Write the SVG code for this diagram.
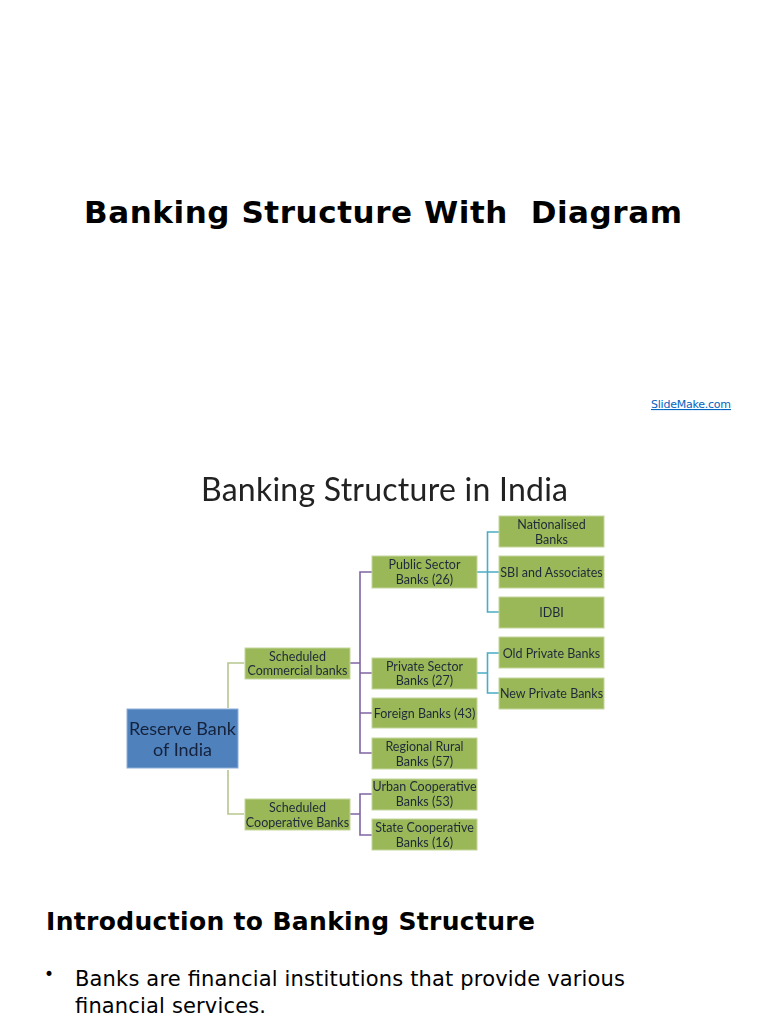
<svg xmlns="http://www.w3.org/2000/svg" width="768" height="1024" viewBox="0 0 768 1024">
<style>
.dj{font-family:"DejaVu Sans",sans-serif}
.b{fill:#9bb858;stroke:#c3d69b;stroke-width:1}
.r{fill:#4f81bd;stroke:#8fb0d8;stroke-width:1}
.t{font-family:"Lato","Open Sans",sans-serif;font-size:12.5px;fill:#1f2a3a;text-anchor:middle}
.l{fill:none;stroke-width:1.6}
.g{stroke:#b7c68e}.p{stroke:#8064a2}.c{stroke:#4bacc6}
</style>
<defs><filter id="soft" x="-2%" y="-2%" width="104%" height="104%"><feGaussianBlur stdDeviation="0.45"/></filter></defs>
<rect width="768" height="1024" fill="#fff"/>
<text class="dj" x="84" y="223" font-size="31" font-weight="bold" fill="#000" xml:space="preserve" style="white-space:pre" textLength="598">Banking Structure With  Diagram</text>
<text class="dj" x="651" y="408" font-size="11" fill="#0563c1" text-decoration="underline" textLength="80">SlideMake.com</text>
<g filter="url(#soft)">
<text x="201" y="501" font-family="Lato,'Open Sans',sans-serif" font-size="32" fill="#222" textLength="367">Banking Structure in India</text>
<g id="connectors">
<path class="l g" d="M228 708V663H244M228 770V814H244"/>
<path class="l p" d="M350 663H360M372 572H360V753H372M360 673H372M360 713H372"/>
<path class="l p" d="M350 814H360M372 794H360V835H372"/>
<path class="l c" d="M477 572H487.500M499 532H487.500V612H499M487.500 572H499"/>
<path class="l c" d="M477 673H487.500M499 653H487.500V693H499"/>
</g>
<g id="reserve"><rect class="r" x="127" y="709" width="111" height="59"/><text class="t" style="font-size:18px;fill:#14233c" x="182.500" y="735">Reserve Bank</text><text class="t" style="font-size:18px;fill:#14233c" x="182.500" y="756">of India</text></g>
<g id="commercial"><rect class="b" x="245" y="648" width="105" height="31"/><text class="t" x="297.500" y="661">Scheduled</text><text class="t" x="297.500" y="675">Commercial banks</text></g>
<g id="cooperative"><rect class="b" x="245" y="799" width="105" height="31"/><text class="t" x="297.500" y="812">Scheduled</text><text class="t" x="297.500" y="827">Cooperative Banks</text></g>
<g id="public"><rect class="b" x="372" y="556" width="105" height="32"/><text class="t" x="424.500" y="569">Public Sector</text><text class="t" x="424.500" y="584">Banks (26)</text></g>
<g id="private"><rect class="b" x="372" y="658" width="105" height="31"/><text class="t" x="424.500" y="671">Private Sector</text><text class="t" x="424.500" y="685">Banks (27)</text></g>
<g id="foreign"><rect class="b" x="372" y="698" width="105" height="30"/><text class="t" x="424.500" y="718">Foreign Banks (43)</text></g>
<g id="regional"><rect class="b" x="372" y="738" width="105" height="31"/><text class="t" x="424.500" y="751">Regional Rural</text><text class="t" x="424.500" y="766">Banks (57)</text></g>
<g id="urban"><rect class="b" x="372" y="779" width="105" height="31"/><text class="t" x="424.500" y="791">Urban Cooperative</text><text class="t" x="424.500" y="806">Banks (53)</text></g>
<g id="state"><rect class="b" x="372" y="819" width="105" height="31"/><text class="t" x="424.500" y="832">State Cooperative</text><text class="t" x="424.500" y="847">Banks (16)</text></g>
<g id="nationalised"><rect class="b" x="499" y="516" width="105" height="31"/><text class="t" x="551.500" y="529">Nationalised</text><text class="t" x="551.500" y="544">Banks</text></g>
<g id="sbi"><rect class="b" x="499" y="556" width="105" height="32"/><text class="t" x="551.500" y="577">SBI and Associates</text></g>
<g id="idbi"><rect class="b" x="499" y="597" width="105" height="31"/><text class="t" x="551.500" y="617">IDBI</text></g>
<g id="old"><rect class="b" x="499" y="637" width="105" height="31"/><text class="t" x="551.500" y="658">Old Private Banks</text></g>
<g id="new"><rect class="b" x="499" y="678" width="105" height="31"/><text class="t" x="551.500" y="698">New Private Banks</text></g>
</g>
<text class="dj" x="46" y="930" font-size="25" font-weight="bold" fill="#000" textLength="489">Introduction to Banking Structure</text>
<text class="dj" x="44" y="980" font-size="17" fill="#000">•</text>
<text class="dj" x="75" y="986" font-size="21" fill="#000" textLength="550">Banks are financial institutions that provide various</text>
<text class="dj" x="75" y="1013" font-size="21" fill="#000" textLength="191">financial services.</text>
</svg>
